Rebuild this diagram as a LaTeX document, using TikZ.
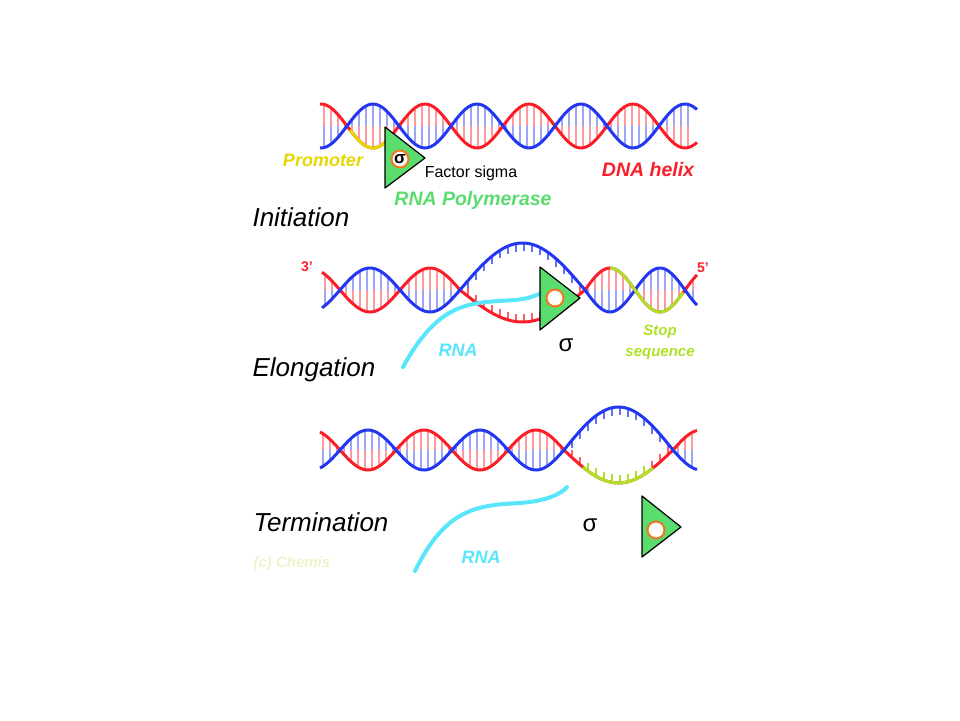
\documentclass[tikz,border=0pt]{standalone}
\usepackage{fontspec}
\setmainfont{Liberation Sans}
\usepackage{xcolor}
\definecolor{DNA-red}{RGB}{250,30,40}
\definecolor{DNA-blue}{RGB}{35,55,240}
\definecolor{RNA-cyan}{RGB}{90,230,250}
\definecolor{Pol-green}{RGB}{90,220,110}
\definecolor{Prom-yellow}{RGB}{230,215,0}
\definecolor{Stop-green}{RGB}{175,225,40}
\definecolor{Ring-orange}{RGB}{240,120,30}
\definecolor{Chemis}{RGB}{235,245,200}
\usetikzlibrary{positioning}

\begin{document}
\begin{tikzpicture} [
    x=1pt, y=-1pt,
    strand/.style = {line width=3pt},
    rungb/.style = {DNA-blue!45, line width=1.2pt},
    rungr/.style = {DNA-red!45, line width=1.2pt},
    tick/.style = {line width=1.2pt},
    rna/.style = {RNA-cyan, line width=4pt, line cap=round},
    pol/.style = {fill=Pol-green, draw=black, line width=1.2pt, line join=round},
    ring/.style = {circle, draw=Ring-orange, line width=2pt, fill=white, minimum size=17, inner sep=0pt},
    label/.style = {font=\bfseries\itshape\fontsize{18}{18}\selectfont},
    stage/.style = {font=\itshape\fontsize{26}{26}\selectfont, anchor=west},
    sig/.style = {font=\fontsize{24}{24}\selectfont}
    ]

    \useasboundingbox (0,0) rectangle (960,720);

    % initiation
    \foreach \x in {324,331,...,694}
        {
            \pgfmathsetmacro{\yb}{126-22*cos((\x-373)/104*360)}
            \pgfmathsetmacro{\yr}{126+22*cos((\x-373)/104*360)}
            \draw[rungb] (\x,\yb) -- (\x,126);
            \draw[rungr] (\x,\yr) -- (\x,126);
        }
    \draw[strand,DNA-red] plot[domain=320:697,samples=120] (\x,{126+22*cos((\x-373)/104*360)});
    \draw[strand,DNA-blue] plot[domain=320:697,samples=120] (\x,{126-22*cos((\x-373)/104*360)});
    \draw[strand,Prom-yellow] plot[domain=350:385,samples=20] (\x,{126+22*cos((\x-373)/104*360)});

    \draw[pol] (385,127) coordinate (p1a) -- (385,188) coordinate (p1b) -- (425,158) coordinate (p1c) -- cycle;
    \node[ring] (r1) at (400,159) {};
    \node[font=\bfseries\fontsize{17}{17}\selectfont] (s1) at (r1) {σ};

    \node[label, Prom-yellow] (promoter) at (323,160) {Promoter};
    \node[font=\fontsize{16}{16}\selectfont] (factor) at (471,173) {Factor sigma};
    \node[label, DNA-red, font=\bfseries\itshape\fontsize{19.5}{19.5}\selectfont] (helix) at (648,170) {DNA helix};
    \node[label, Pol-green, font=\bfseries\itshape\fontsize{19.5}{19.5}\selectfont] (polname) at (473,200) {RNA Polymerase};
    \node[stage] (init) at (249,217) {Initiation};

    % elongation
    \foreach \x in {325,332,...,458}
        {
            \pgfmathsetmacro{\yb}{290-22*cos((\x-370)/120*360)}
            \pgfmathsetmacro{\yr}{290+22*cos((\x-370)/120*360)}
            \draw[rungb] (\x,\yb) -- (\x,290);
            \draw[rungr] (\x,\yr) -- (\x,290);
        }
    \foreach \x in {588,595,...,694}
        {
            \pgfmathsetmacro{\yb}{290+22*cos((\x-610)/100*360)}
            \pgfmathsetmacro{\yr}{290-22*cos((\x-610)/100*360)}
            \draw[rungb] (\x,\yb) -- (\x,290);
            \draw[rungr] (\x,\yr) -- (\x,290);
        }
    \foreach \x in {468,476,...,580}
        {
            \pgfmathsetmacro{\yb}{290-47*sin((\x-460)/125*180)}
            \pgfmathsetmacro{\yr}{290+32*sin((\x-460)/125*180)}
            \draw[tick,DNA-blue!70] (\x,\yb) -- ++(0,8);
            \draw[tick,DNA-red!70] (\x,\yr) -- ++(0,-8);
        }
    \draw[strand,DNA-red] plot[domain=322:460,samples=50] (\x,{290+22*cos((\x-370)/120*360)})
        -- plot[domain=460:585,samples=50] (\x,{290+32*sin((\x-460)/125*180)})
        -- plot[domain=585:697,samples=50] (\x,{290-22*cos((\x-610)/100*360)});
    \draw[strand,DNA-blue] plot[domain=322:460,samples=50] (\x,{290-22*cos((\x-370)/120*360)})
        -- plot[domain=460:585,samples=50] (\x,{290-47*sin((\x-460)/125*180)})
        -- plot[domain=585:697,samples=50] (\x,{290+22*cos((\x-610)/100*360)});
    \draw[strand,Stop-green] plot[domain=610:683,samples=30] (\x,{290-22*cos((\x-610)/100*360)});

    \coordinate (rna2a) at (403,367);
    \coordinate (rna2b) at (553,284);
    \draw[rna] (rna2a) .. controls (440,300) and (470,303) .. (515,300) .. controls (535,298) and (545,292) .. (rna2b);
    \draw[pol] (540,267) coordinate (p2a) -- (540,330) coordinate (p2b) -- (580,298) coordinate (p2c) -- cycle;
    \node[ring] (r2) at (555,298) {};

    \node[sig] (s2) at (566,345) {σ};
    \node[font=\fontsize{14}{14}\selectfont\bfseries, DNA-red] (end3) at (307,267) {3'};
    \node[font=\fontsize{14}{14}\selectfont\bfseries, DNA-red] (end5) at (703,268) {5'};
    \node[label, RNA-cyan] (rna2) at (458,350) {RNA};
    \node[label, Stop-green, align=center, font=\bfseries\itshape\fontsize{15}{21}\selectfont] (stop) at (660,342) {Stop\\sequence};
    \node[stage] (elong) at (249,370) {Elongation};

    % termination
    \foreach \x in {323,330,...,561}
        {
            \pgfmathsetmacro{\yb}{450+20*cos((\x-424)/112*360)}
            \pgfmathsetmacro{\yr}{450-20*cos((\x-424)/112*360)}
            \draw[rungb] (\x,\yb) -- (\x,450);
            \draw[rungr] (\x,\yr) -- (\x,450);
        }
    \foreach \x in {678,685,692}
        {
            \pgfmathsetmacro{\yb}{450+20*cos((\x-701)/112*360)}
            \pgfmathsetmacro{\yr}{450-20*cos((\x-701)/112*360)}
            \draw[rungb] (\x,\yb) -- (\x,450);
            \draw[rungr] (\x,\yr) -- (\x,450);
        }
    \foreach \x in {572,580,...,668}
        {
            \pgfmathsetmacro{\yb}{450-43*sin((\x-564)/109*180)}
            \pgfmathsetmacro{\yr}{450+33*sin((\x-564)/109*180)}
            \draw[tick,DNA-blue!70] (\x,\yb) -- ++(0,8);
            \draw[tick,DNA-red!70] (\x,\yr) -- ++(0,-8);
        }
    \foreach \x in {588,596,...,650}
        {
            \pgfmathsetmacro{\yr}{450+33*sin((\x-564)/109*180)}
            \draw[tick,Stop-green] (\x,\yr) -- ++(0,-8);
        }
    \draw[strand,DNA-red] plot[domain=320:564,samples=90] (\x,{450-20*cos((\x-424)/112*360)})
        -- plot[domain=564:673,samples=40] (\x,{450+33*sin((\x-564)/109*180)})
        -- plot[domain=673:697,samples=12] (\x,{450-20*cos((\x-701)/112*360)});
    \draw[strand,DNA-blue] plot[domain=320:564,samples=90] (\x,{450+20*cos((\x-424)/112*360)})
        -- plot[domain=564:673,samples=40] (\x,{450-43*sin((\x-564)/109*180)})
        -- plot[domain=673:697,samples=12] (\x,{450+20*cos((\x-701)/112*360)});
    \draw[strand,Stop-green] plot[domain=583:653,samples=30] (\x,{450+33*sin((\x-564)/109*180)});

    \coordinate (rna3a) at (415,571);
    \coordinate (rna3b) at (567,487);
    \draw[rna] (rna3a) .. controls (445,510) and (475,505) .. (520,503) .. controls (545,501) and (560,495) .. (rna3b);
    \draw[pol] (642,496) coordinate (p3a) -- (642,557) coordinate (p3b) -- (681,527) coordinate (p3c) -- cycle;
    \node[ring] (r3) at (656,530) {};

    \node[sig] (s3) at (590,525) {σ};
    \node[label, RNA-cyan] (rna3) at (481,557) {RNA};
    \node[stage] (term) at (250,522) {Termination};
    \node[label, Chemis, anchor=west, font=\bfseries\itshape\fontsize{15}{15}\selectfont] (copy) at (250,564) {(c) Chemis};
\end{tikzpicture}
\end{document}
